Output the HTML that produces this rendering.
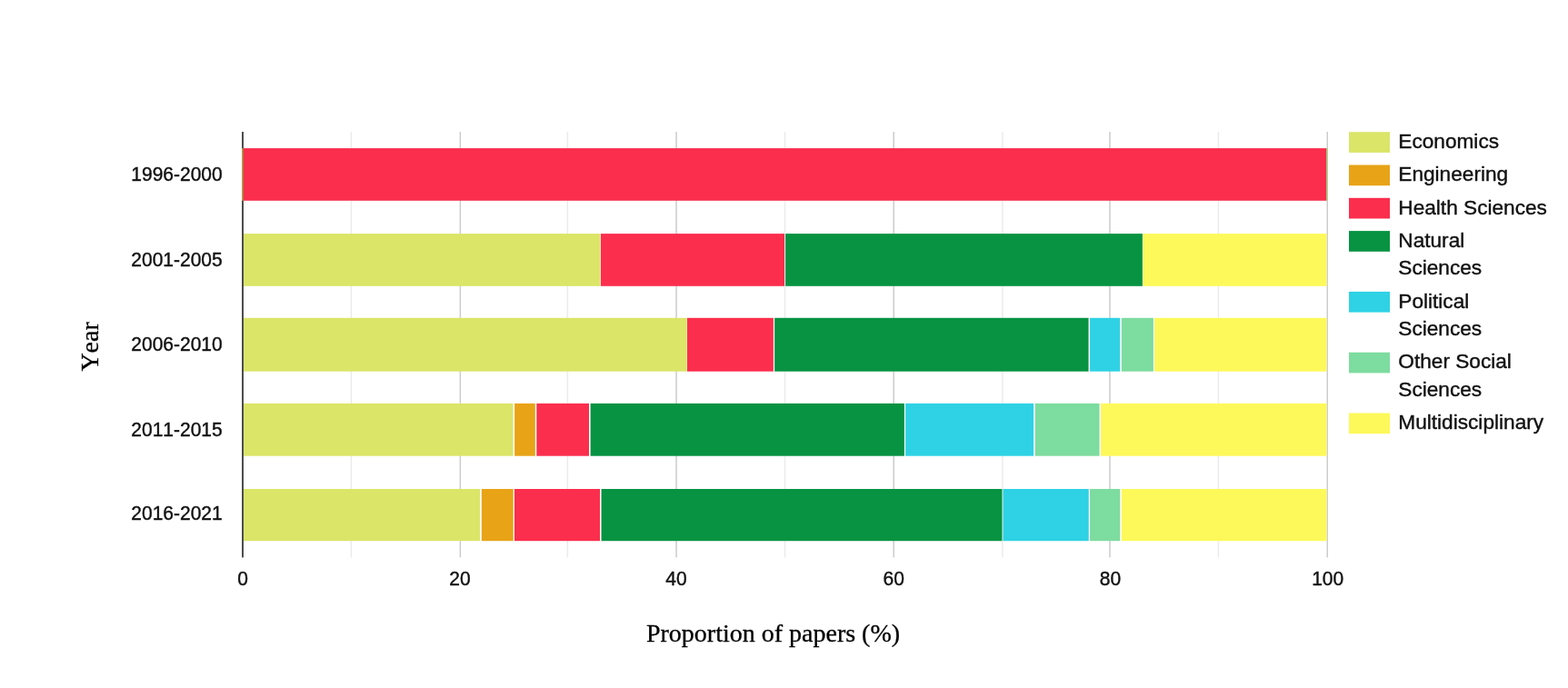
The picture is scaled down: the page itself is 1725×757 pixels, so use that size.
<!DOCTYPE html>
<html lang="en">
<head>
<meta charset="utf-8">
<title>Proportion of papers by discipline and year</title>
<style>
html,body{margin:0;padding:0;background:#fff;}
body{width:1725px;height:757px;overflow:hidden;}
svg{display:block;}
.t{font-family:"Liberation Sans",Arial,Helvetica,sans-serif;font-size:21px;fill:#111;font-kerning:none;stroke:#111;stroke-width:0.4px;}
.lg{font-family:"Liberation Sans",Arial,Helvetica,sans-serif;font-size:22.65px;fill:#111;font-kerning:none;}
.lg text{stroke:#111;stroke-width:0.4px;}
.ttl{font-family:"Liberation Serif","Times New Roman",Times,serif;font-size:28px;fill:#000;font-kerning:none;stroke:#000;stroke-width:0.3px;}
</style>
</head>
<body>
<svg width="1725" height="757" viewBox="0 0 1725 757">
<rect x="0" y="0" width="1725" height="757" fill="#ffffff"/>
<g id="gridlines">
<rect x="385.650" y="145.0" width="1.5" height="468.4" fill="#ebebeb"/>
<rect x="505.600" y="145.0" width="1.5" height="468.4" fill="#cccccc"/>
<rect x="623.600" y="145.0" width="1.5" height="468.4" fill="#ebebeb"/>
<rect x="743.300" y="145.0" width="1.5" height="468.4" fill="#cccccc"/>
<rect x="862.750" y="145.0" width="1.5" height="468.4" fill="#ebebeb"/>
<rect x="982.450" y="145.0" width="1.5" height="468.4" fill="#cccccc"/>
<rect x="1102.150" y="145.0" width="1.5" height="468.4" fill="#ebebeb"/>
<rect x="1220.200" y="145.0" width="1.5" height="468.4" fill="#cccccc"/>
<rect x="1339.650" y="145.0" width="1.5" height="468.4" fill="#ebebeb"/>
<rect x="1459.500" y="145.0" width="1.5" height="468.4" fill="#cccccc"/>
</g>
<g id="bars">
<rect x="267.00" y="163.1" width="1192.50" height="57.7" fill="#fb2e4d"/>
<rect x="267.00" y="257.1" width="393.30" height="57.7" fill="#dbe568"/>
<rect x="660.90" y="257.1" width="202.10" height="57.7" fill="#fb2e4d"/>
<rect x="864.10" y="257.1" width="392.75" height="57.7" fill="#079342"/>
<rect x="1257.35" y="257.1" width="202.15" height="57.7" fill="#fdf95a"/>
<rect x="267.00" y="349.8" width="488.70" height="58.9" fill="#dbe568"/>
<rect x="756.00" y="349.8" width="94.85" height="58.9" fill="#fb2e4d"/>
<rect x="852.15" y="349.8" width="345.40" height="58.9" fill="#079342"/>
<rect x="1199.05" y="349.8" width="33.15" height="58.9" fill="#2ed2e4"/>
<rect x="1233.80" y="349.8" width="35.10" height="58.9" fill="#7ddc9f"/>
<rect x="1270.10" y="349.8" width="189.40" height="58.9" fill="#fdf95a"/>
<rect x="267.00" y="443.9" width="297.50" height="57.8" fill="#dbe568"/>
<rect x="566.10" y="443.9" width="22.70" height="57.8" fill="#e8a317"/>
<rect x="590.30" y="443.9" width="57.70" height="57.8" fill="#fb2e4d"/>
<rect x="649.60" y="443.9" width="345.30" height="57.8" fill="#079342"/>
<rect x="996.10" y="443.9" width="141.00" height="57.8" fill="#2ed2e4"/>
<rect x="1138.70" y="443.9" width="70.85" height="57.8" fill="#7ddc9f"/>
<rect x="1211.05" y="443.9" width="248.45" height="57.8" fill="#fdf95a"/>
<rect x="267.00" y="538.0" width="261.10" height="57.2" fill="#dbe568"/>
<rect x="529.80" y="538.0" width="34.85" height="57.2" fill="#e8a317"/>
<rect x="565.95" y="538.0" width="94.10" height="57.2" fill="#fb2e4d"/>
<rect x="661.55" y="538.0" width="440.93" height="57.2" fill="#079342"/>
<rect x="1103.48" y="538.0" width="94.27" height="57.2" fill="#2ed2e4"/>
<rect x="1199.05" y="538.0" width="33.15" height="57.2" fill="#7ddc9f"/>
<rect x="1233.80" y="538.0" width="225.70" height="57.2" fill="#fdf95a"/>
</g>
<rect id="axis" x="266" y="145.0" width="2" height="468.4" fill="#4d4d4d"/>
<rect x="266" y="163.1" width="1" height="57.7" fill="#b2a156"/>
<rect x="267" y="163.1" width="1" height="57.7" fill="#b4783c"/>
<rect x="1459.5" y="163.1" width="1.5" height="57.7" fill="#9cdc88"/>
<g class="t" text-anchor="end">
<text transform="translate(244.7,199.45) scale(1,1.04)">1996-2000</text>
<text transform="translate(244.7,293.30) scale(1,1.04)">2001-2005</text>
<text transform="translate(244.7,385.90) scale(1,1.04)">2006-2010</text>
<text transform="translate(244.7,480.10) scale(1,1.04)">2011-2015</text>
<text transform="translate(244.7,572.45) scale(1,1.04)">2016-2021</text>
</g>
<g class="t" text-anchor="middle">
<text transform="translate(267.20,643.8) scale(1,1.04)">0</text>
<text transform="translate(506.00,643.8) scale(1,1.04)">20</text>
<text transform="translate(744.00,643.8) scale(1,1.04)">40</text>
<text transform="translate(983.20,643.8) scale(1,1.04)">60</text>
<text transform="translate(1221.50,643.8) scale(1,1.04)">80</text>
<text transform="translate(1460.70,643.8) scale(1,1.04)">100</text>
</g>
<text class="ttl" text-anchor="middle" x="850.5" y="706.3">Proportion of papers (%)</text>
<text class="ttl" text-anchor="middle" transform="translate(107.7,381.4) rotate(-90)">Year</text>
<g class="lg">
<rect x="1484" y="145.20" width="45" height="22.7" fill="#dbe568"/>
<text x="1538.3" y="162.90">Economics</text>
<rect x="1484" y="181.50" width="45" height="22.7" fill="#e8a317"/>
<text x="1538.3" y="199.20">Engineering</text>
<rect x="1484" y="217.80" width="45" height="22.7" fill="#fb2e4d"/>
<text x="1538.3" y="235.50">Health Sciences</text>
<rect x="1484" y="254.10" width="45" height="22.7" fill="#079342"/>
<text x="1538.3" y="271.80">Natural</text>
<text x="1538.3" y="302.30">Sciences</text>
<rect x="1484" y="320.90" width="45" height="22.7" fill="#2ed2e4"/>
<text x="1538.3" y="338.60">Political</text>
<text x="1538.3" y="369.10">Sciences</text>
<rect x="1484" y="387.70" width="45" height="22.7" fill="#7ddc9f"/>
<text x="1538.3" y="405.40">Other Social</text>
<text x="1538.3" y="435.90">Sciences</text>
<rect x="1484" y="454.50" width="45" height="22.7" fill="#fdf95a"/>
<text x="1538.3" y="472.20">Multidisciplinary</text>
</g>
</svg>
</body>
</html>
